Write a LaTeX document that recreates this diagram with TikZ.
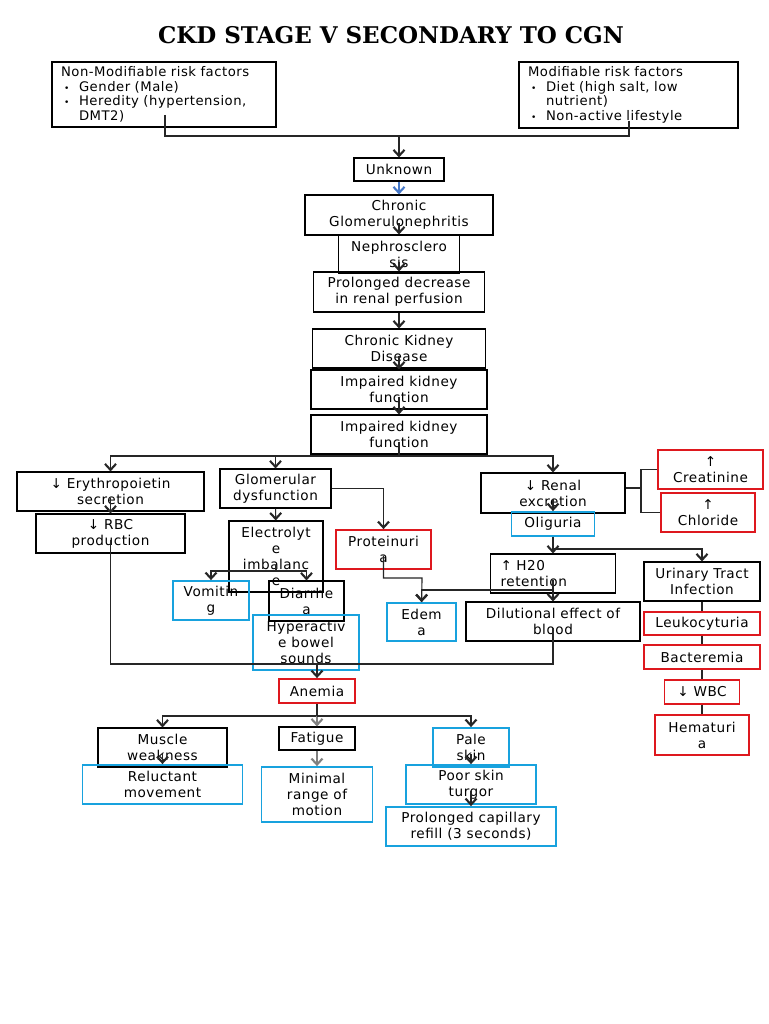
\documentclass[tikz,border=0pt]{standalone}
\usepackage{fontspec}
\setmainfont{DejaVu Sans}[LetterSpace=4]
\newfontfamily\titlefont{DejaVu Serif}
\usepackage{xcolor}
\definecolor{redBox}{RGB}{222,24,30}
\definecolor{cyanBox}{RGB}{24,162,222}
\definecolor{blueArr}{RGB}{70,120,200}
\usepackage{tikz}
\usetikzlibrary{arrows.meta, positioning, calc}
\newcommand{\rfb}{\hspace*{3pt}\makebox[15pt][l]{\fontsize{9}{9}\selectfont\textbullet}}

\begin{document}
\begin{tikzpicture}[
  x=1pt, y=-1pt,
  nbox/.style={rectangle, draw=black, line width=1.1pt, inner sep=2pt, align=center,
               font=\fontsize{13.6}{16}\selectfont},
  redbox/.style={nbox, draw=redBox, line width=1.8pt},
  cyanbox/.style={nbox, draw=cyanBox, line width=1.8pt},
  riskbox/.style={nbox, align=left, inner xsep=9pt, font=\fontsize{13.2}{14.7}\selectfont},
  wh/.style 2 args={minimum width=#1pt, minimum height=#2pt},
  ln/.style={line width=1.1pt, color=black!85},
  arr/.style={ln, -{Straight Barb[length=6pt, width=11pt, line width=2.1pt]}}
]
  \fill[white] (0,0) rectangle (768,1024);
  \useasboundingbox (0,0) rectangle (768,1024);

  \node[font=\titlefont\bfseries\fontsize{23}{26}\selectfont] (title) at (391,35) {CKD STAGE V SECONDARY TO CGN};

  \node[riskbox, text width=206pt, minimum height=65pt] (nonmod) at (164,94.5)
    {Non-Modifiable risk factors\\\rfb Gender (Male)\\\rfb Heredity (hypertension,\\\hspace*{18pt}DMT2)};
  \node[riskbox, text width=201pt, minimum height=66pt] (mod) at (628.5,95)
    {Modifiable risk factors\\\rfb Diet (high salt, low\\\hspace*{18pt}nutrient)\\\rfb Non-active lifestyle};

  \node[nbox, wh={90}{23}] (unknown) at (399,169.5) {Unknown};
  \node[nbox, wh={188}{40}] (cgn) at (399,215) {Chronic\\Glomerulonephritis};
  \node[nbox, wh={121}{38}] (nephro) at (399,254) {Nephrosclero\\sis};
  \node[nbox, wh={171}{40}] (perf) at (399,292) {Prolonged decrease\\in renal perfusion};
  \node[nbox, wh={173}{39}] (ckd) at (399,348.5) {Chronic Kidney\\Disease};
  \node[nbox, wh={176}{39}] (impA) at (399,389.5) {Impaired kidney\\function};
  \node[nbox, wh={176}{39}] (impB) at (399,434.5) {Impaired kidney\\function};

  \node[nbox, wh={187}{39}] (epo) at (110.5,491.5) {↓ Erythropoietin\\secretion};
  \node[nbox, wh={149}{39}] (rbc) at (110.5,533.5) {↓ RBC\\production};
  \node[nbox, wh={111}{39}] (glom) at (275.5,488.5) {Glomerular\\dysfunction};
  \node[nbox, wh={94}{71}] (elec) at (276,556.5) {Electrolyt\\e\\imbalanc\\e};
  \node[cyanbox, wh={76}{39}] (vomit) at (211,600.5) {Vomitin\\g};
  \node[nbox, wh={75}{40}] (diarr) at (306.5,601) {Diarrhe\\a};
  \node[cyanbox, wh={106}{55}] (bowel) at (306,642.5) {Hyperactiv\\e bowel\\sounds};
  \node[redbox, wh={95}{39}] (prot) at (383.5,549.5) {Proteinuri\\a};
  \node[cyanbox, wh={69}{38}] (edema) at (421.5,622) {Edem\\a};

  \node[nbox, wh={144}{40}] (renal) at (553,493) {↓ Renal\\excretion};
  \node[redbox, wh={105}{39}] (creat) at (710.5,469.5) {↑\\Creatinine};
  \node[redbox, wh={94}{39}] (chlor) at (708,512.5) {↑\\Chloride};
  \node[cyanbox, wh={83}{24}] (olig) at (553,524) {Oliguria};
  \node[nbox, align=left, inner xsep=10pt, text width=105pt, minimum height=39pt] (hto) at (553,573.5) {↑ H20\\retention};
  \node[nbox, wh={174}{39}] (dilut) at (553,621.5) {Dilutional effect of\\blood};
  \node[nbox, wh={116}{39}] (uti) at (702,581.5) {Urinary Tract\\Infection};
  \node[redbox, wh={116}{23}] (leuko) at (702,623.5) {Leukocyturia};
  \node[redbox, wh={116}{24}] (bact) at (702,657) {Bacteremia};
  \node[redbox, wh={75}{24}] (wbc) at (702,692) {↓ WBC};
  \node[redbox, wh={94}{40}] (hemat) at (702,735) {Hematuri\\a};

  \node[redbox, wh={76}{24}] (anemia) at (317,691) {Anemia};
  \node[nbox, wh={129}{39}] (muscle) at (162.5,747.5) {Muscle\\weakness};
  \node[cyanbox, wh={160}{39}] (reluct) at (162.5,784.5) {Reluctant\\movement};
  \node[nbox, wh={76}{23}] (fatigue) at (317,738.5) {Fatigue};
  \node[cyanbox, wh={111}{55}] (rom) at (317,794.5) {Minimal\\range of\\motion};
  \node[cyanbox, wh={76}{39}] (pale) at (471,747.5) {Pale\\skin};
  \node[cyanbox, wh={130}{39}] (turgor) at (471,784.5) {Poor skin\\turgor};
  \node[cyanbox, wh={170}{39}] (refill) at (471,826.5) {Prolonged capillary\\refill (3 seconds)};

  \coordinate (nmA) at (165,115);
  \coordinate (mA) at (629,121);
  \coordinate (rj) at (399,136);
  \coordinate (bj) at (399,456);
  \coordinate (ej) at (276,571);
  \coordinate (pk) at (422,578);
  \coordinate (rk) at (641,488);
  \coordinate (oj) at (553,549);
  \coordinate (hj) at (553,590);
  \coordinate (aj) at (317,664);
  \coordinate (nj) at (317,716);

  \draw[ln] (nmA) |- (mA |- rj) -- (mA);
  \draw[arr] (rj) -- (unknown);
  \draw[arr, color=blueArr] (unknown) -- (cgn);
  \draw[arr] ([yshift=-8pt]cgn.center) -- (nephro);
  \draw[arr] ([yshift=-8pt]nephro.center) -- (perf);
  \draw[arr] (perf) -- (ckd);
  \draw[arr] ([yshift=-7pt]ckd.center) -- (impA);
  \draw[arr] ([yshift=-7pt]impA.center) -- (impB);
  \draw[ln] ([yshift=-7pt]impB.center) -- (bj);
  \draw[arr] (bj) -| (epo);
  \draw[arr] (bj) -| (glom);
  \draw[arr] (bj) -| (renal);

  \draw[arr] ([yshift=-6pt]epo.center) -- (rbc);
  \draw[arr] (glom) -- (elec);
  \draw[arr] (glom.east) -| (prot);
  \draw[ln] ([yshift=-8pt]elec.center) -- (ej);
  \draw[arr] (ej) -| (vomit);
  \draw[arr] (ej) -| (diarr);
  \draw[arr] ([yshift=-6pt]prot.center) |- (pk) -- (edema);

  \draw[ln] (renal.east |- rk) -- (rk);
  \draw[ln] (rk) |- (creat);
  \draw[ln] (rk) |- (chlor);
  \draw[arr] ([yshift=-6pt]renal.center) -- (olig);
  \draw[ln] (olig) -- (oj);
  \draw[arr] (oj) -- (hto);
  \draw[arr] (oj) -| (uti);
  \draw[ln] ([yshift=-6pt]hto.center) -- (hj);
  \draw[arr] (hj) -| (edema);
  \draw[arr] (hj) -- (dilut);
  \draw[ln] (uti) -- (leuko) -- (bact) -- (wbc) -- (hemat);

  \draw[ln] ([yshift=-6pt]rbc.center) |- (aj -| dilut) -- ([yshift=-6pt]dilut.center);
  \draw[arr] (aj) -- (anemia);
  \draw[ln] (anemia) -- (nj);
  \draw[arr] (nj) -| (muscle);
  \draw[arr, color=gray] (nj) -- (fatigue);
  \draw[arr] (nj) -| (pale);
  \draw[arr] ([yshift=-6pt]muscle.center) -- (reluct);
  \draw[arr, color=gray] (fatigue) -- (rom);
  \draw[arr] ([yshift=-6pt]pale.center) -- (turgor);
  \draw[arr] ([yshift=-6pt]turgor.center) -- (refill);
\end{tikzpicture}
\end{document}
